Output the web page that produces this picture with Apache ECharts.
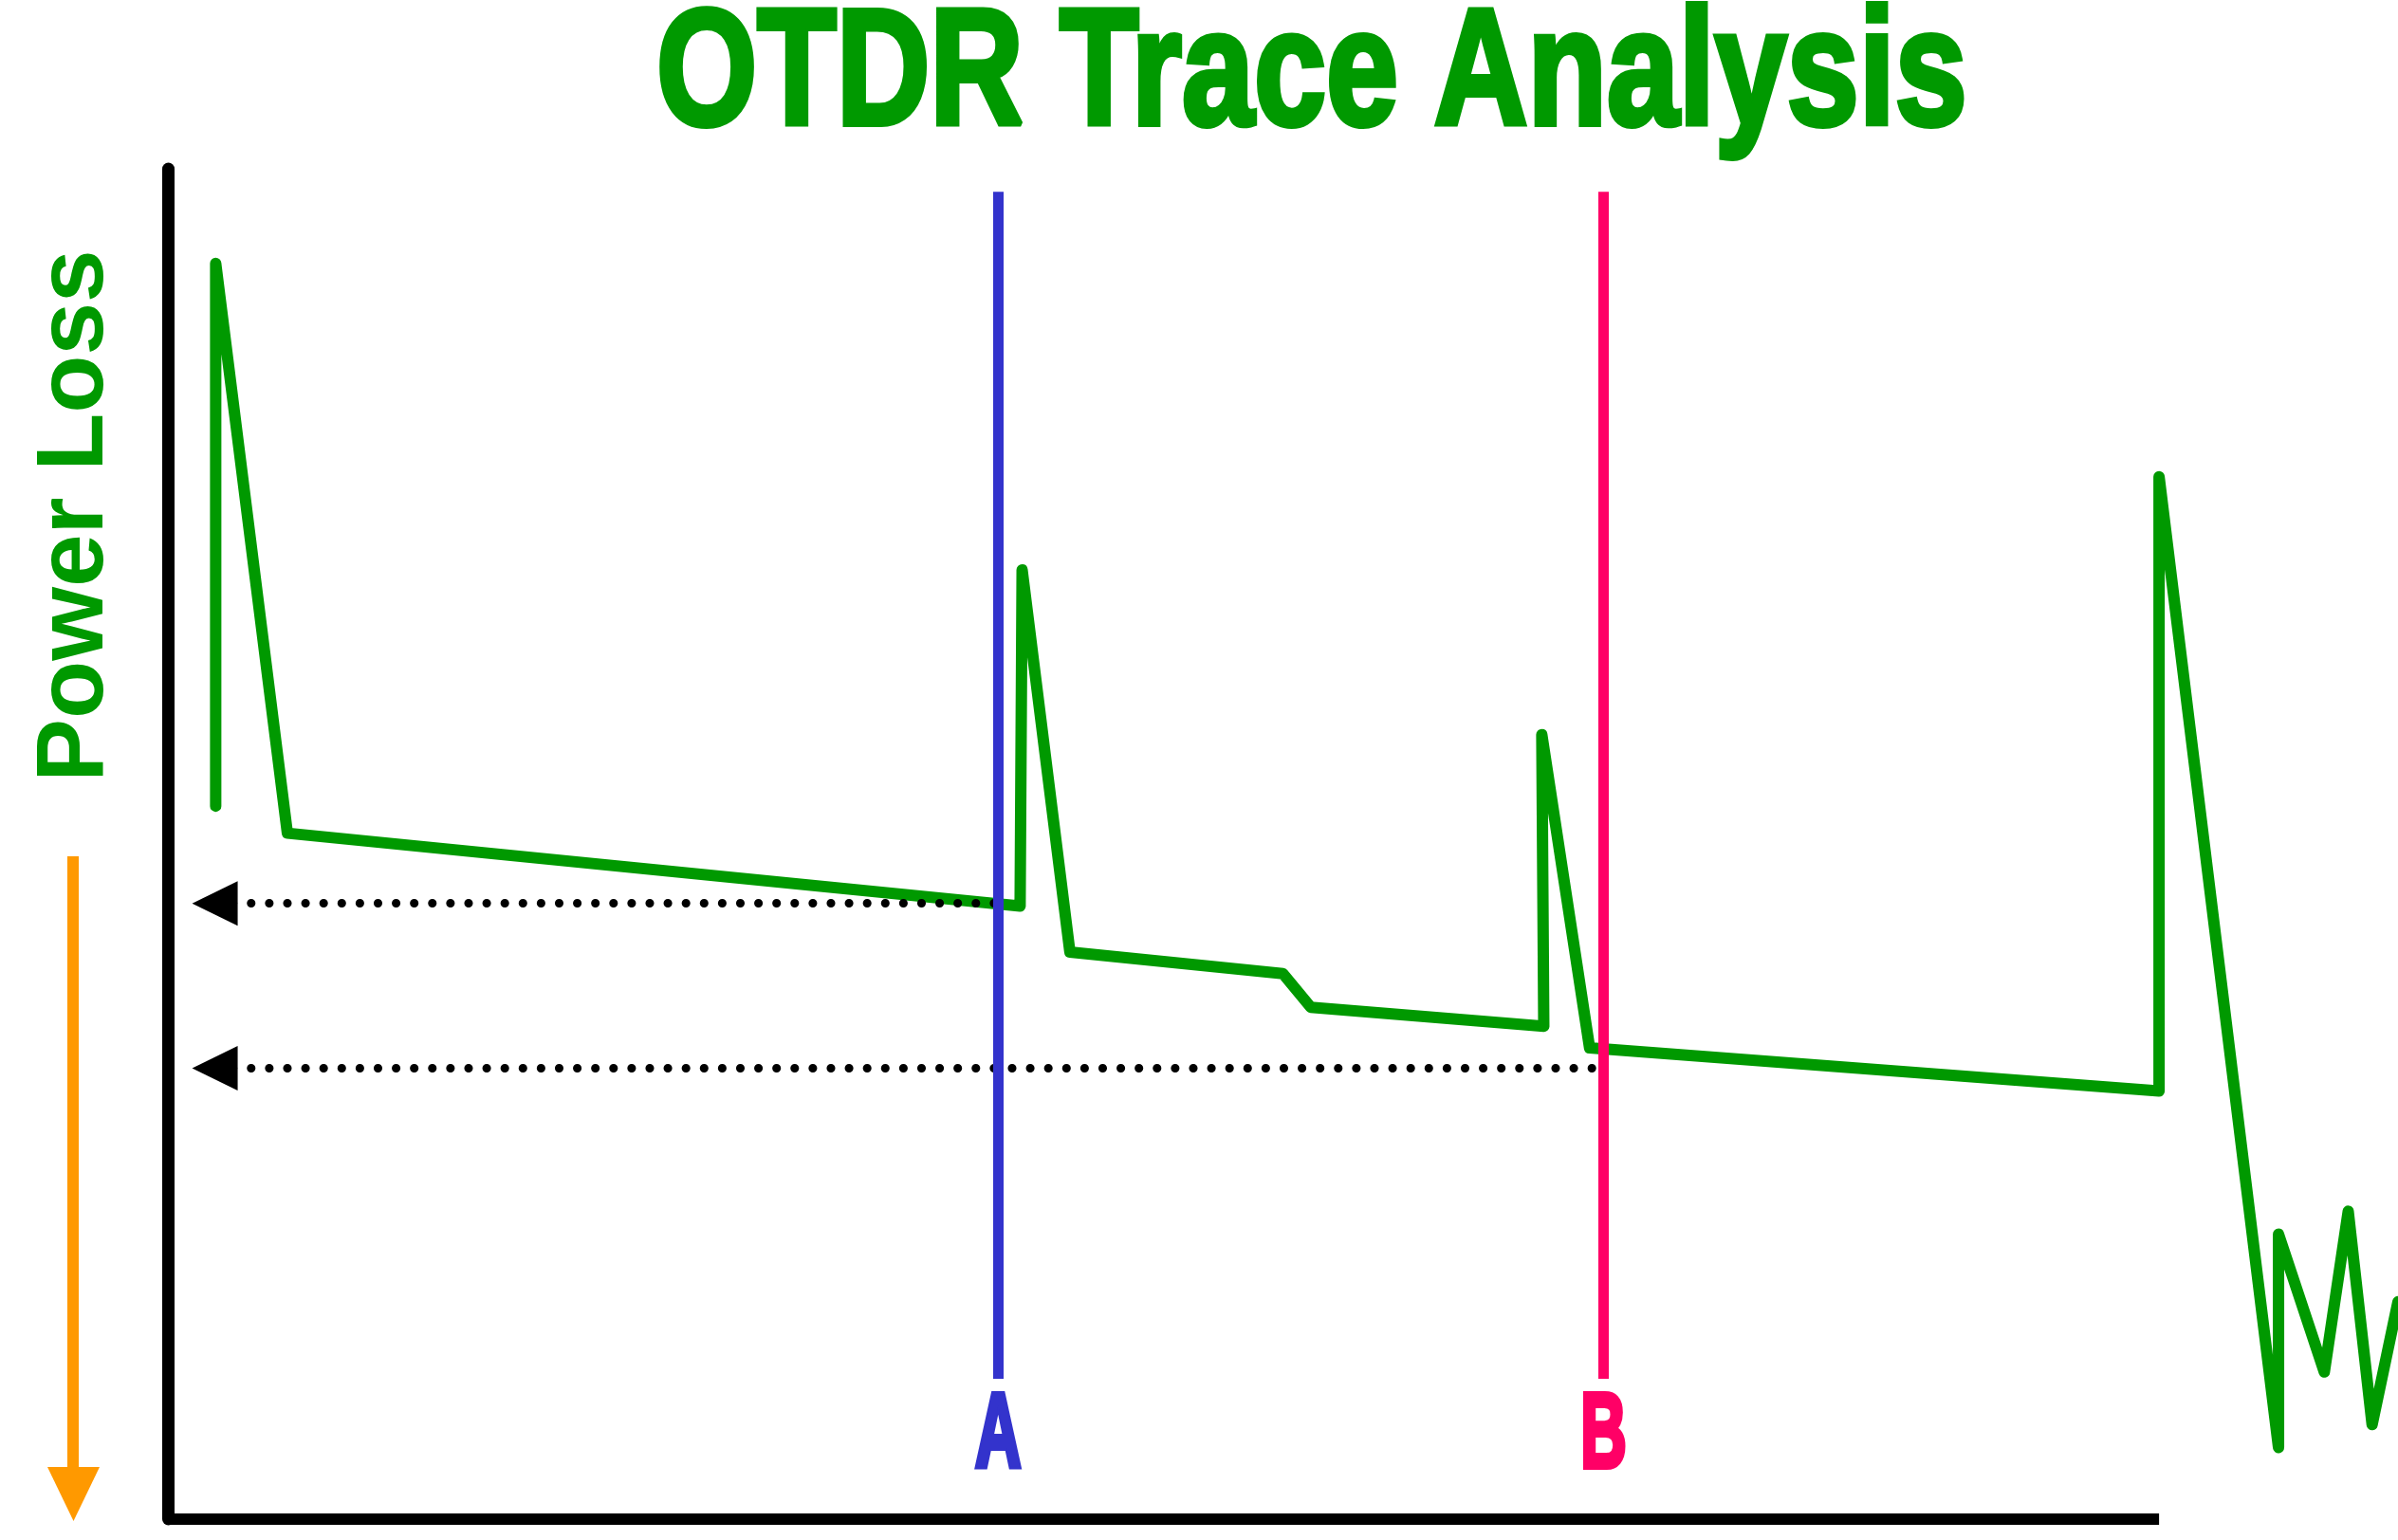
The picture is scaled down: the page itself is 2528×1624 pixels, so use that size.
<!DOCTYPE html>
<html>
<head>
<meta charset="utf-8">
<title>OTDR Trace Analysis</title>
<script src="https://cdn.jsdelivr.net/npm/echarts@6/dist/echarts.min.js"></script>
<style>
  html, body { margin: 0; padding: 0; background: #fff; }
  #otdr { width: 2528px; height: 1624px; }
</style>
</head>
<body>
<div id="otdr"></div>
<script>
// distance along the fibre (km) and relative power level of the trace
var traceDistance = [2.4, 2.4, 6.0, 42.8, 42.9, 45.3, 56.0, 57.4, 69.1, 69.0, 71.4, 100, 100, 106.0, 106.0, 108.3, 109.5, 110.7, 112.0];
var tracePower    = [52.8, 93.0, 50.8, 45.4, 70.3, 42.0, 40.4, 37.9, 36.5, 58.1, 34.9, 31.7, 77.2, 5.3, 21.1, 10.9, 22.8, 7.0, 16.1];

// drawn extent of the distance axis (the trace runs on past its end)
var axisEnd = 100;

// cursors A and B
var cursorNames = ['A', 'B'];
var cursorDistance = [41.7, 72.1];
var cursorColors = ['#3333cc', '#ff0066'];
var cursorSpan = [10.4, 98.3];

// dotted read-out arrows (level read at each cursor)
var readLevels = [45.6, 33.4];
var readStart = 2.36;

var chartDom = document.getElementById('otdr');
var myChart = echarts.init(chartDom);
var option;

var traceData = traceDistance.map(function (d, i) { return [d, tracePower[i]]; });

var readLines = readLevels.map(function (lvl, i) {
  return [{ coord: [readStart, lvl] }, { coord: [cursorDistance[i], lvl] }];
});

var cursorSeries = cursorNames.map(function (name, i) {
  return {
    type: 'line',
    name: name,
    data: [],
    z: 5,
    markLine: {
      silent: true,
      symbol: 'none',
      lineStyle: { color: cursorColors[i], width: 11, type: 'solid' },
      label: { show: false },
      data: [[{ coord: [cursorDistance[i], cursorSpan[0]] }, { coord: [cursorDistance[i], cursorSpan[1]] }]]
    }
  };
});

option = {
  animation: false,
  grid: {
    left: 177,
    top: 178,
    right: 0,
    bottom: 22
  },
  xAxis: {
    type: 'value',
    min: 0,
    max: 112,
    axisLine: { show: false },
    axisTick: { show: false },
    axisLabel: { show: false },
    splitLine: { show: false }
  },
  yAxis: {
    type: 'value',
    min: 0,
    max: 100,
    axisLine: { show: true, onZero: false, lineStyle: { color: '#000', width: 13 } },
    axisTick: { show: false },
    axisLabel: { show: false },
    splitLine: { show: false }
  },
  graphic: [
    {
      type: 'text',
      x: 692,
      y: 83,
      scaleX: 0.785,
      style: {
        text: 'OTDR Trace Analysis',
        fill: '#009900',
        stroke: '#009900',
        lineWidth: 6,
        lineJoin: 'round',
        fontSize: 174,
        fontWeight: 'bold',
        fontFamily: '"Liberation Sans", Arial, sans-serif',
        align: 'left',
        verticalAlign: 'middle'
      }
    },
    {
      type: 'text',
      x: 80,
      y: 544,
      rotation: Math.PI / 2,
      style: {
        text: 'Power Loss',
        fill: '#009900',
        fontSize: 100,
        fontWeight: 'bold',
        fontFamily: '"Liberation Sans", Arial, sans-serif',
        align: 'center',
        verticalAlign: 'middle'
      }
    },
    {
      type: 'rect',
      shape: { x: 71, y: 903, width: 12, height: 650 },
      style: { fill: '#ff9900' }
    },
    {
      type: 'polygon',
      shape: { points: [[50, 1547], [105, 1547], [77.5, 1604]] },
      style: { fill: '#ff9900' }
    }
  ],
  series: [
    {
      type: 'line',
      name: 'trace',
      data: traceData,
      symbol: 'none',
      z: 2,
      lineStyle: { color: '#009900', width: 12, join: 'round', cap: 'round' }
    },
    {
      type: 'line',
      name: 'axis',
      data: [],
      z: 3,
      markLine: {
        silent: true,
        symbol: 'none',
        lineStyle: { color: '#000', width: 12, type: 'solid' },
        label: { show: false },
        data: [[{ coord: [0, 0] }, { coord: [axisEnd, 0] }]]
      }
    },
    {
      type: 'line',
      name: 'readout',
      data: [],
      z: 4,
      markLine: {
        silent: true,
        symbol: ['triangle', 'none'],
        symbolSize: [47, 48],
        itemStyle: { color: '#000' },
        lineStyle: { color: '#000', width: 9, type: [0.1, 19], cap: 'round' },
        label: { show: false },
        data: readLines
      }
    }
  ].concat(cursorSeries)
};

option && myChart.setOption(option);

// cursor letters under each cursor line, placed through the axes
var cursorLabels = cursorNames.map(function (name, i) {
  var p = myChart.convertToPixel({ gridIndex: 0 }, [cursorDistance[i], cursorSpan[0]]);
  return {
    type: 'text',
    x: p[0],
    y: p[1] + 62,
    scaleX: 0.6,
    style: {
      text: name,
      fill: cursorColors[i],
      stroke: cursorColors[i],
      lineWidth: 6,
      lineJoin: 'round',
      fontSize: 112,
      fontWeight: 'bold',
      fontFamily: '"Liberation Sans", Arial, sans-serif',
      align: 'center',
      verticalAlign: 'middle'
    }
  };
});
myChart.setOption({ graphic: option.graphic.concat(cursorLabels) });

window.addEventListener('resize', () => {
  myChart.resize()
})
</script>
</body>
</html>
